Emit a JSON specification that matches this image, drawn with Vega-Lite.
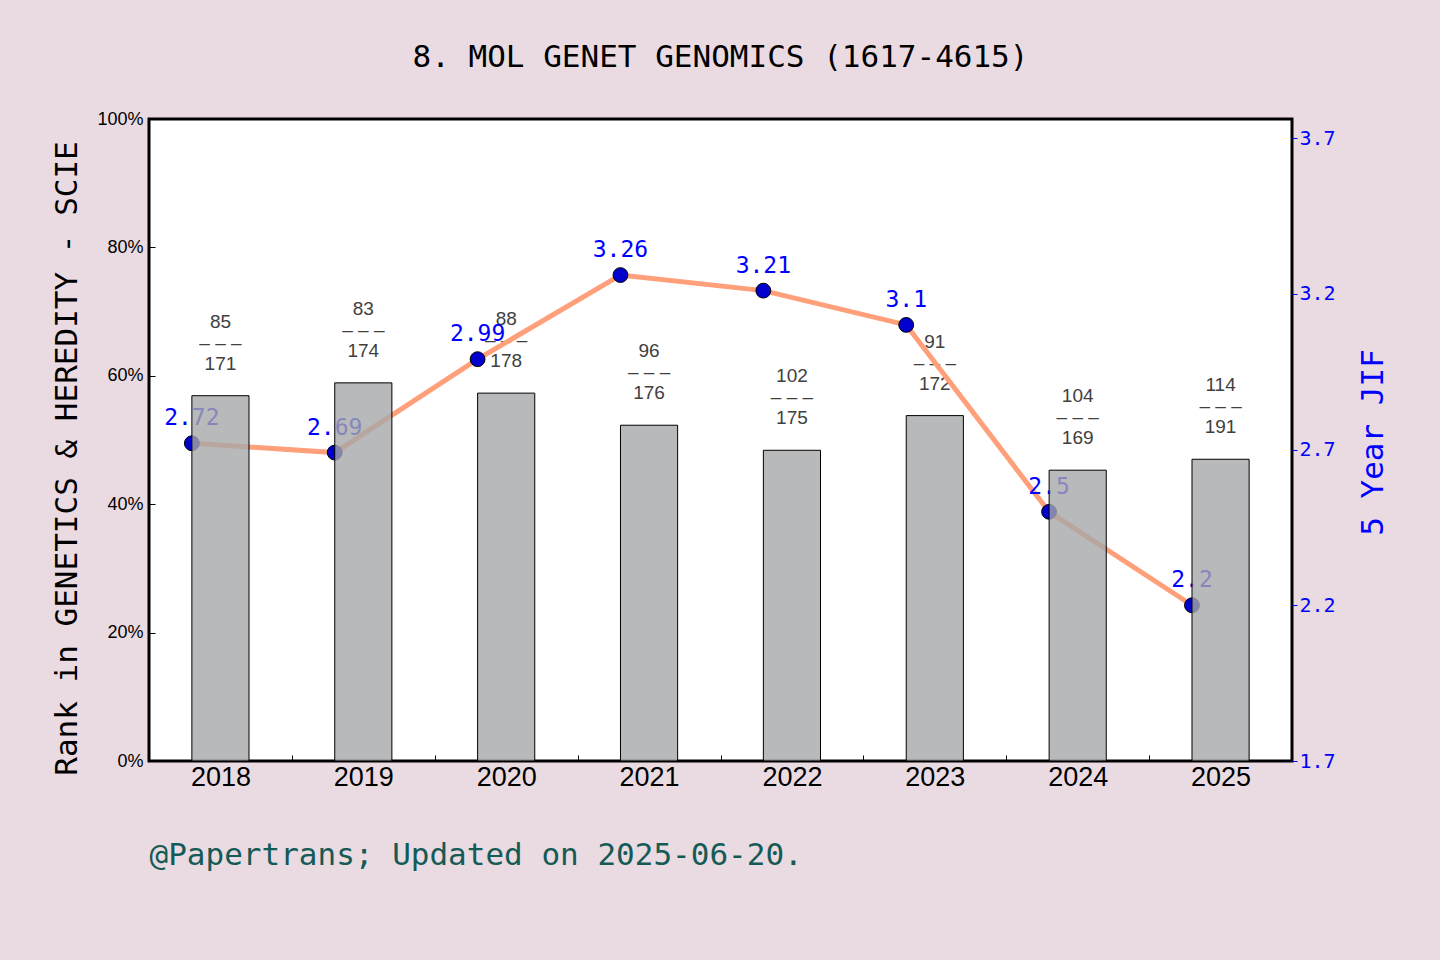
{
  "$schema": "https://vega.github.io/schema/vega-lite/v6.json",
  "width": 1143,
  "height": 642,
  "autosize": {"type": "none"},
  "padding": {"left": 149, "top": 119, "right": 148, "bottom": 199},
  "background": "#EADBE3",
  "config": {
    "view": {"stroke": "black", "strokeWidth": 3, "fill": "white"},
    "font": "DejaVu Sans Mono"
  },
  "title": {
    "text": "8. MOL GENET GENOMICS (1617-4615)",
    "font": "DejaVu Sans Mono",
    "fontSize": 31,
    "fontWeight": "normal",
    "color": "black",
    "anchor": "middle",
    "frame": "group",
    "offset": 36
  },
  "data": {
    "values": [
      {"year": "2018", "pct": 0.569, "jif": 2.72, "frac": "85\n– – –\n171"},
      {"year": "2019", "pct": 0.589, "jif": 2.69, "frac": "83\n– – –\n174"},
      {"year": "2020", "pct": 0.573, "jif": 2.99, "frac": "88\n– – –\n178"},
      {"year": "2021", "pct": 0.523, "jif": 3.26, "frac": "96\n– – –\n176"},
      {"year": "2022", "pct": 0.484, "jif": 3.21, "frac": "102\n– – –\n175"},
      {"year": "2023", "pct": 0.538, "jif": 3.10, "frac": "91\n– – –\n172"},
      {"year": "2024", "pct": 0.453, "jif": 2.50, "frac": "104\n– – –\n169"},
      {"year": "2025", "pct": 0.470, "jif": 2.20, "frac": "114\n– – –\n191"}
    ]
  },
  "encoding": {
    "x": {
      "field": "year",
      "type": "ordinal",
      "scale": {"paddingInner": 0, "paddingOuter": 0},
      "axis": {
        "title": "@Papertrans; Updated on 2025-06-20.",
        "titleFont": "DejaVu Sans Mono",
        "titleFontSize": 31,
        "titleFontWeight": "normal",
        "titleColor": "#145A55",
        "titleAlign": "left",
        "titleAnchor": "start",
        "titleX": 0,
        "titleY": 94,
        "titleBaseline": "middle",
        "labelAngle": 0,
        "labelFont": "Liberation Sans",
        "labelFontSize": 27,
        "labelColor": "black",
        "labelPadding": 9,
        "tickBand": "extent",
        "tickSize": -6,
        "tickColor": "black",
        "domain": false,
        "grid": false
      }
    }
  },
  "layer": [
    {
      "mark": {"type": "text", "font": "Liberation Sans", "fontSize": 19, "color": "#404040", "lineBreak": "\n", "lineHeight": 21, "baseline": "bottom", "align": "center", "dy": -64},
      "encoding": {
        "y": {"field": "pct", "type": "quantitative", "scale": {"domain": [0, 1], "nice": false}, "axis": null},
        "text": {"field": "frac"}
      }
    },
    {
      "encoding": {
        "y": {
          "field": "jif",
          "type": "quantitative",
          "scale": {"domain": [1.7, 3.761], "nice": false, "zero": false},
          "axis": {
            "orient": "right",
            "values": [1.7, 2.2, 2.7, 3.2, 3.7],
            "format": ".1f",
            "labelFont": "DejaVu Sans Mono",
            "labelFontSize": 20,
            "labelColor": "blue",
            "labelPadding": 2,
            "tickColor": "blue",
            "tickSize": 5,
            "domain": false,
            "grid": false,
            "title": "5 Year JIF",
            "titleFont": "DejaVu Sans Mono",
            "titleFontSize": 31,
            "titleFontWeight": "normal",
            "titleColor": "blue",
            "titleAngle": 270,
            "titleX": 81,
            "titleY": 323,
            "titleBaseline": "middle",
            "titleAlign": "center"
          }
        }
      },
      "layer": [
        {"mark": {"type": "line", "color": "#FFA07A", "strokeWidth": 5, "xOffset": -28.6}},
        {"mark": {"type": "point", "filled": true, "fill": "#0000CD", "stroke": "black", "strokeWidth": 1, "size": 220, "opacity": 1, "xOffset": -28.6}},
        {
          "mark": {"type": "text", "font": "DejaVu Sans Mono", "fontSize": 23, "color": "blue", "baseline": "middle", "align": "center", "dy": -25, "xOffset": -28.6},
          "encoding": {"text": {"field": "jif", "type": "quantitative", "format": ".3~f"}}
        }
      ]
    },
    {
      "mark": {"type": "bar", "fill": "#a6a7a9", "fillOpacity": 0.8, "stroke": "black", "strokeWidth": 1, "width": {"band": 0.4}},
      "encoding": {
        "y": {
          "field": "pct",
          "type": "quantitative",
          "scale": {"domain": [0, 1], "nice": false},
          "axis": {
            "orient": "left",
            "values": [0, 0.2, 0.4, 0.6, 0.8, 1],
            "format": ".0%",
            "labelFont": "Liberation Sans",
            "labelFontSize": 18,
            "labelColor": "black",
            "labelPadding": 12,
            "tickSize": -6,
            "tickColor": "black",
            "domain": false,
            "grid": false,
            "title": "Rank in GENETICS & HEREDITY - SCIE",
            "titleFont": "DejaVu Sans Mono",
            "titleFontSize": 31,
            "titleFontWeight": "normal",
            "titleColor": "black",
            "titleAngle": 270,
            "titleX": -82,
            "titleY": 339,
            "titleBaseline": "middle",
            "titleAlign": "center"
          }
        }
      }
    }
  ],
  "resolve": {"scale": {"y": "independent"}, "axis": {"y": "independent"}}
}
